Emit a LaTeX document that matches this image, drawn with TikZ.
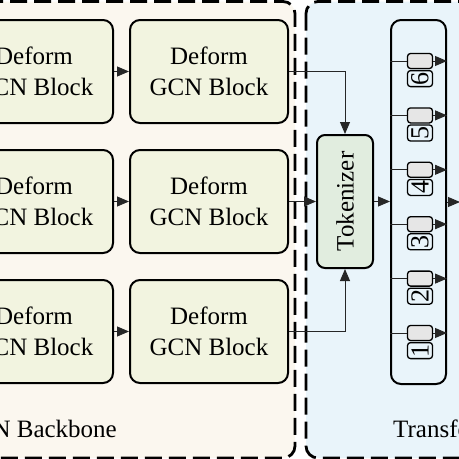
\documentclass[tikz,border=0pt]{standalone}
\usepackage{fontspec}
\setmainfont{Liberation Serif}
\usepackage{graphicx}
\usetikzlibrary{arrows.meta}
\definecolor{leftbg}{HTML}{FBF7EF}
\definecolor{rightbg}{HTML}{E9F4FA}
\definecolor{blockfill}{HTML}{F2F4E0}
\definecolor{tokfill}{HTML}{E1EDDF}
\definecolor{grayfill}{HTML}{E6E6E6}
\tikzset{
  panel/.style={line width=2.8pt, dash pattern=on 17pt off 7pt, rounded corners=12pt},
  gcnblock/.style={draw, line width=2pt, rounded corners=10pt, fill=blockfill,
    minimum width=158pt, minimum height=103pt, align=center, inner sep=0pt,
    font=\fontsize{25}{31}\selectfont},
  tokbox/.style={draw, line width=2pt, rounded corners=8pt, fill=tokfill,
    minimum width=56pt, minimum height=133pt, inner sep=0pt},
  seqbox/.style={draw, line width=2pt, rounded corners=10pt, fill=rightbg,
    minimum width=55pt, minimum height=364pt, inner sep=0pt},
  graybox/.style={draw, line width=1.3pt, rounded corners=3pt, fill=grayfill,
    minimum width=25pt, minimum height=15pt, inner sep=0pt},
  numbox/.style={draw, line width=1.3pt, rounded corners=3pt, fill=rightbg,
    minimum width=25pt, minimum height=16pt, inner sep=0pt,
    font=\fontsize{26}{26}\selectfont},
  conn/.style={line width=0.9pt, draw=black!85},
  arr/.style={conn, -{Triangle[length=12pt,width=10pt]}},
  lbl/.style={inner sep=0pt, font=\fontsize{25}{30}\selectfont}
}
\begin{document}
\begin{tikzpicture}[x=1pt,y=-1pt]
\useasboundingbox (0,0) rectangle (459,459);
\clip (0,0) rectangle (459,459);
% panels
\draw[panel, fill=leftbg] (-40,1.5) rectangle (295,458);
\draw[panel, fill=rightbg] (306,1.5) rectangle (500,458);
% GCN blocks
\node[gcnblock] (a1) at (34,71.5) {Deform\\GCN Block};
\node[gcnblock] (a2) at (34,201.5) {Deform\\GCN Block};
\node[gcnblock] (a3) at (34,331.5) {Deform\\GCN Block};
\node[gcnblock] (b1) at (209,71.5) {Deform\\GCN Block};
\node[gcnblock] (b2) at (209,201.5) {Deform\\GCN Block};
\node[gcnblock] (b3) at (209,331.5) {Deform\\GCN Block};
\draw[arr] (a1) -- (b1);
\draw[arr] (a2) -- (b2);
\draw[arr] (a3) -- (b3);
% tokenizer
\node[tokbox] (tok) at (345,201.5) {\rotatebox{90}{\fontsize{25}{25}\selectfont Tokenizer}};
\draw[arr] (b1.east) -| (tok.north);
\draw[arr] (b2.east) -- (tok.west);
\draw[arr] (b3.east) -| (tok.south);
% token sequence
\node[seqbox] (seq) at (418.5,202) {};
\draw[arr] (tok.east) -- (seq.west |- tok.east);
\foreach \k/\yy in {1/333,2/278.6,3/224.2,4/169.8,5/115.4,6/61}{
  \node[graybox] (g\k) at (420,\yy) {};
  \node[numbox, anchor=north] (n\k) at ([yshift=-0.8pt]g\k.south) {\rotatebox{90}{\k}};
  \draw[conn] (g\k.west -| seq.west) -- (g\k.west);
  \draw[arr] (g\k.east) -- (g\k.east -| seq.east);
}
\coordinate (out) at (460,202);
\draw[arr] (seq.east) -- (out);
% labels
\node[lbl, anchor=base east] (lblL) at (117,437) {GCN Backbone};
\node[lbl, anchor=base west] (lblR) at (393,437) {Transformer};
\end{tikzpicture}
\end{document}
